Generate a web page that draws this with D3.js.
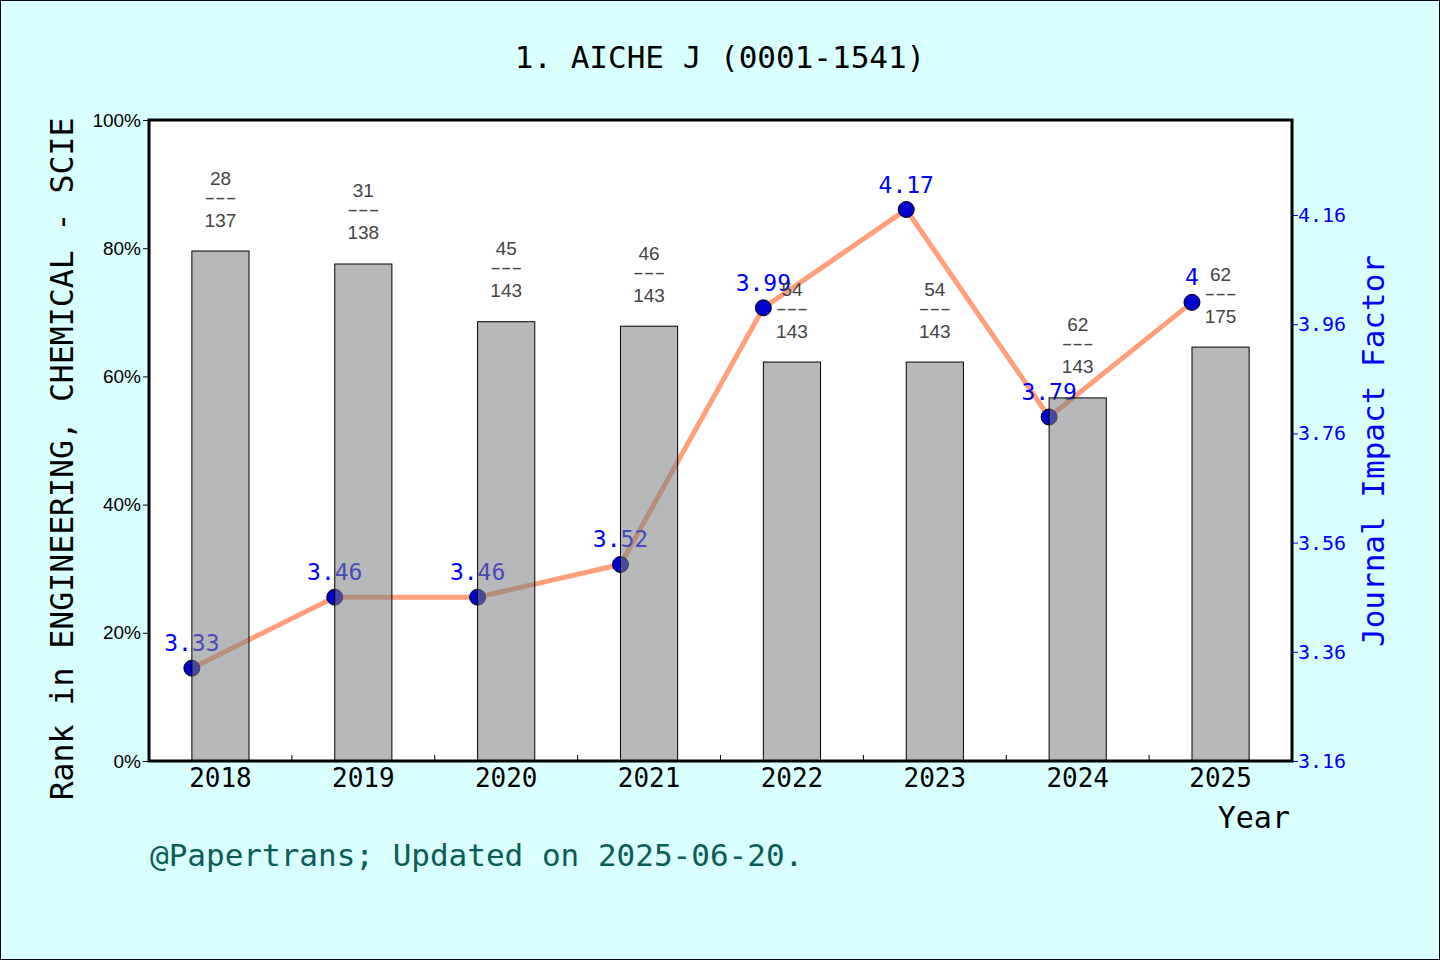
<!DOCTYPE html>
<html>
<head>
    <meta charset="utf-8">
    <title>AICHE J rank and impact factor</title>
    <script src="https://d3js.org/d3.v7.min.js"></script>
    <style type="text/css">
        body { margin: 0; background: #d9fffe; }
        .mono { font-family: "DejaVu Sans Mono", "Liberation Mono", monospace; }
        .rank-label { font-family: "Liberation Sans", Arial, sans-serif; font-size: 19px; fill: #444; }
    </style>
</head>
<body>
    <svg id="chart" width="1440" height="960"></svg>
    <script>
        // values
        var years = ["2018", "2019", "2020", "2021", "2022", "2023", "2024", "2025"];
        var ranks = [28, 31, 45, 46, 54, 54, 62, 62];
        var totals = [137, 138, 143, 143, 143, 143, 143, 175];
        var impactFactors = [3.33, 3.46, 3.46, 3.52, 3.99, 4.17, 3.79, 4.00];
        var pctTicks = [0, 0.2, 0.4, 0.6, 0.8, 1.0];
        var ifTicks = [3.16, 3.36, 3.56, 3.76, 3.96, 4.16];

        var margin = { top: 120, right: 148, bottom: 199, left: 149 },
            width = 1440 - margin.left - margin.right,
            height = 960 - margin.top - margin.bottom;

        var svg = d3.select("#chart");

        // background + outer frame
        svg.append("rect")
            .attr("x", 0.5).attr("y", 0.5)
            .attr("width", 1439).attr("height", 959)
            .attr("fill", "#d9fffe").attr("stroke", "black").attr("stroke-width", 1);

        var g = svg.append("g")
            .attr("transform", "translate(" + margin.left + "," + margin.top + ")");

        g.append("rect")
            .attr("width", width).attr("height", height)
            .attr("fill", "white");

        var xScale = d3.scaleBand().domain(years).range([0, width]).padding(0);
        var barW = xScale.bandwidth() * 0.4;
        var yScale = d3.scaleLinear().domain([0, 1]).range([height, 0]);
        var ifScale = d3.scaleLinear().domain([3.16, 4.334]).range([height, 0]);

        var pct = years.map(function(y, i) { return 1 - ranks[i] / totals[i]; });

        function barLeft(y) { return xScale(y) + xScale.bandwidth() / 2 - barW / 2; }

        // impact factor line and points (drawn under the bars)
        var line = d3.line()
            .x(function(d, i) { return barLeft(years[i]); })
            .y(function(d) { return ifScale(d); });

        g.append("path")
            .datum(impactFactors)
            .attr("d", line)
            .attr("fill", "none")
            .attr("stroke", "#ffa07a")
            .attr("stroke-width", 5);

        g.selectAll("circle.ifpt")
            .data(impactFactors)
            .enter()
            .append("circle")
                .attr("class", "ifpt")
                .attr("cx", function(d, i) { return barLeft(years[i]); })
                .attr("cy", function(d) { return ifScale(d); })
                .attr("r", 8)
                .attr("fill", "#0000cc")
                .attr("stroke", "black")
                .attr("stroke-width", 1);

        g.selectAll("text.iflabel")
            .data(impactFactors)
            .enter()
            .append("text")
                .attr("class", "iflabel mono")
                .attr("x", function(d, i) { return barLeft(years[i]); })
                .attr("y", function(d) { return ifScale(d) - 25; })
                .attr("text-anchor", "middle")
                .attr("dominant-baseline", "central")
                .style("font-size", "23px")
                .attr("fill", "#0000ff")
                .text(function(d) { return String(d); });

        // bars, semi transparent on top
        g.selectAll("rect.bar")
            .data(pct)
            .enter()
            .append("rect")
                .attr("class", "bar")
                .attr("x", function(d, i) { return barLeft(years[i]); })
                .attr("y", function(d) { return yScale(d); })
                .attr("width", barW)
                .attr("height", function(d) { return height - yScale(d); })
                .attr("fill", "#7f8082")
                .attr("fill-opacity", 0.56)
                .attr("stroke", "black")
                .attr("stroke-width", 1);

        // rank labels: rank / --- / total
        var rl = g.selectAll("g.rank")
            .data(pct)
            .enter()
            .append("g")
                .attr("class", "rank")
                .attr("transform", function(d, i) {
                    return "translate(" + (xScale(years[i]) + xScale.bandwidth() / 2) + "," + yScale(d) + ")";
                });
        rl.append("text").attr("class", "rank-label").attr("y", -73)
            .attr("text-anchor", "middle").attr("dominant-baseline", "central")
            .text(function(d, i) { return ranks[i]; });
        rl.append("text").attr("class", "rank-label").attr("y", -54)
            .attr("x", -16)
            .attr("textLength", 32).attr("lengthAdjust", "spacingAndGlyphs")
            .attr("dominant-baseline", "central")
            .text("---");
        rl.append("text").attr("class", "rank-label").attr("y", -31)
            .attr("text-anchor", "middle").attr("dominant-baseline", "central")
            .text(function(d, i) { return totals[i]; });

        // axes
        var xAxis = g.append("g")
            .attr("transform", "translate(0," + height + ")")
            .call(d3.axisBottom(xScale).tickSize(0).tickPadding(8));
        xAxis.select(".domain").remove();
        xAxis.selectAll("text")
            .attr("class", "mono")
            .style("font-size", "26px")
            .attr("fill", "black");

        // small inward ticks at category boundaries
        g.selectAll("line.sep")
            .data(years.slice(1))
            .enter()
            .append("line")
                .attr("class", "sep")
                .attr("x1", function(d) { return xScale(d); })
                .attr("x2", function(d) { return xScale(d); })
                .attr("y1", height).attr("y2", height - 6)
                .attr("stroke", "black");

        var yAxis = g.append("g")
            .call(d3.axisLeft(yScale).tickValues(pctTicks).tickFormat(d3.format(".0%")).tickSize(6).tickPadding(2));
        yAxis.select(".domain").remove();
        yAxis.selectAll("text")
            .style("font-family", "'Liberation Sans Narrow', 'Liberation Sans', sans-serif")
            .style("font-size", "19px")
            .attr("fill", "black");

        var rAxis = g.append("g")
            .attr("transform", "translate(" + width + ",0)")
            .call(d3.axisRight(ifScale).tickValues(ifTicks).tickFormat(d3.format(".2f")).tickSize(6).tickPadding(0));
        rAxis.select(".domain").remove();
        rAxis.selectAll("line").attr("stroke", "#0000ff");
        rAxis.selectAll("text")
            .attr("class", "mono")
            .style("font-size", "20px")
            .attr("fill", "#0000ff");

        // plot frame
        g.append("rect")
            .attr("width", width).attr("height", height)
            .attr("fill", "none")
            .attr("stroke", "black")
            .attr("stroke-width", 3);

        // titles
        svg.append("text")
            .attr("class", "mono")
            .attr("x", 720).attr("y", 57)
            .attr("text-anchor", "middle").attr("dominant-baseline", "central")
            .style("font-size", "31px")
            .text("1. AICHE J (0001-1541)");

        svg.append("text")
            .attr("class", "mono")
            .attr("transform", "translate(62,459) rotate(-90)")
            .attr("text-anchor", "middle").attr("dominant-baseline", "central")
            .style("font-size", "31.5px")
            .text("Rank in ENGINEERING, CHEMICAL - SCIE");

        svg.append("text")
            .attr("class", "mono")
            .attr("transform", "translate(1373,451) rotate(-90)")
            .attr("text-anchor", "middle").attr("dominant-baseline", "central")
            .style("font-size", "31px")
            .attr("fill", "#0000ff")
            .text("Journal Impact Factor");

        svg.append("text")
            .attr("class", "mono")
            .attr("x", 1290).attr("y", 817)
            .attr("text-anchor", "end").attr("dominant-baseline", "central")
            .style("font-size", "30px")
            .text("Year");

        svg.append("text")
            .attr("class", "mono")
            .attr("x", 150).attr("y", 855)
            .attr("dominant-baseline", "central")
            .style("font-size", "31px")
            .attr("fill", "#0b5c57")
            .text("@Papertrans; Updated on 2025-06-20.");
    </script>
</body>
</html>
